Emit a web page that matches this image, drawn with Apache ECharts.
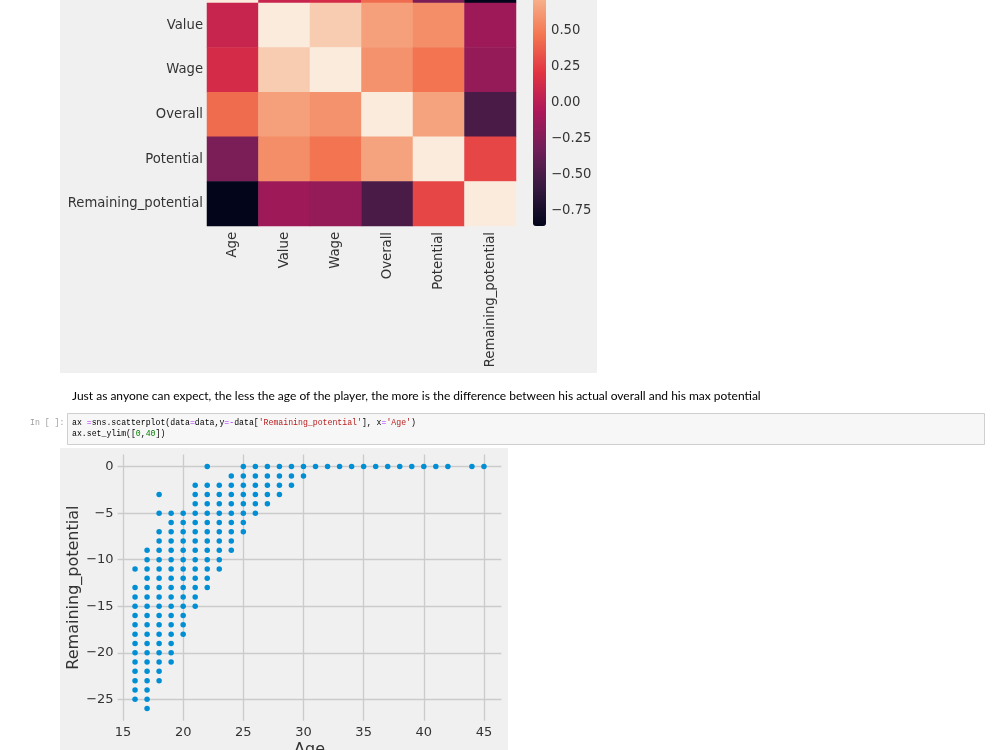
<!DOCTYPE html>
<html><head><meta charset="utf-8">
<script src="https://cdn.jsdelivr.net/npm/echarts@6/dist/echarts.min.js"></script>
<style>html,body{margin:0;padding:0;background:#fff}#c{width:1000px;height:750px}</style>
</head><body><div id="c"></div>
<script>
// ---------- heatmap data ----------
const features = ['Age', 'Value', 'Wage', 'Overall', 'Potential', 'Remaining_potential'];
const corrAge       = [ 1.00,  0.07,  0.13,  0.43, -0.28, -0.86];
const corrValue     = [ 0.07,  1.00,  0.85,  0.65,  0.57, -0.13];
const corrWage      = [ 0.13,  0.85,  1.00,  0.59,  0.46, -0.17];
const corrOverall   = [ 0.43,  0.65,  0.59,  1.00,  0.66, -0.50];
const corrPotential = [-0.28,  0.57,  0.46,  0.66,  1.00,  0.28];
const corrRemaining = [-0.86, -0.13, -0.17, -0.50,  0.28,  1.00];
const colorbarTicks = [-0.75, -0.50, -0.25, 0.00, 0.25, 0.50, 0.75, 1.00];

// ---------- scatter data ----------
const ages = [16, 17, 18, 19, 20, 21, 22, 23, 24, 25, 26, 27, 28, 29, 30,
              31, 32, 33, 34, 35, 36, 37, 38, 39, 40, 41, 42, 44, 45];
const remainingByAge = [
  [-11, -13, -14, -15, -16, -17, -18, -19, -20, -21, -22, -23, -24, -25],
  [-9, -10, -11, -12, -13, -14, -15, -16, -17, -18, -19, -20, -21, -22, -23, -24, -25, -26],
  [-3, -5, -7, -8, -9, -10, -11, -12, -13, -14, -15, -16, -17, -18, -19, -20, -21, -22, -23],
  [-5, -6, -7, -8, -9, -10, -11, -12, -13, -14, -15, -16, -17, -18, -19, -20, -21],
  [-5, -6, -7, -8, -9, -10, -11, -12, -13, -14, -15, -16, -17, -18],
  [-2, -3, -4, -5, -6, -7, -8, -9, -10, -11, -12, -13, -14, -15],
  [0, -2, -3, -4, -5, -6, -7, -8, -9, -10, -11, -12, -13],
  [-2, -3, -4, -5, -6, -7, -8, -9, -10, -11],
  [-1, -2, -3, -4, -5, -6, -7, -8, -9],
  [0, -1, -2, -3, -4, -5, -6, -7],
  [0, -1, -2, -3, -4, -5],
  [0, -1, -2, -3, -4],
  [0, -1, -2, -3],
  [0, -1, -2],
  [0, -1],
  [0], [0], [0], [0], [0], [0], [0], [0], [0], [0], [0], [0], [0], [0]
];
const xTicks = [15, 20, 25, 30, 35, 40, 45];
const yTicks = [-25, -20, -15, -10, -5, 0];

// ---------- build series data ----------
const corrRows = [corrAge, corrValue, corrWage, corrOverall, corrPotential, corrRemaining];
const heatData = [];
corrRows.forEach((row, yi) => row.forEach((v, xi) => heatData.push([xi, yi, v])));
const scatterData = [];
ages.forEach((a, i) => remainingByAge[i].forEach(v => scatterData.push([a, v])));

const minus = v => (v < 0 ? '\u2212' : '');
const fmtInt = v => minus(v) + Math.abs(v);
const fmt2 = v => minus(v) + Math.abs(v).toFixed(2);

const rocket = ['#03051A', '#35193E', '#701F57', '#AD1759', '#E13342', '#F37651', '#F6B48F', '#FAEBDD'];
const TXT = '#333333';
const MPL = 'DejaVu Sans';
const MONO = '8.2px "Liberation Mono"';

const chart = echarts.init(document.getElementById('c'), null, { renderer: 'canvas' });
chart.setOption({
  backgroundColor: '#ffffff',
  animation: false,
  graphic: [
    { type: 'rect', z: -10, shape: { x: 60, y: 0, width: 537, height: 373 }, style: { fill: '#F0F0F0' } },
    { type: 'rect', z: -10, shape: { x: 60, y: 448, width: 448, height: 302 }, style: { fill: '#F0F0F0' } },
    { type: 'text', x: 72, y: 396, style: {
        text: 'Just as anyone can expect, the less the age of the player, the more is the difference between his actual overall and his max potential',
        fill: '#000', font: '12px Lato', verticalAlign: 'middle' } },
    { type: 'rect', z: -10, shape: { x: 67.5, y: 413.5, width: 917, height: 31 }, style: { fill: '#F7F7F7', stroke: '#CFCFCF', lineWidth: 1 } },
    { type: 'text', x: 30, y: 423, style: { text: 'In [ ]:', fill: '#9E9E9E', font: MONO, verticalAlign: 'middle' } },
    { type: 'text', x: 72, y: 423, style: {
        text: "ax {o|=}sns.scatterplot(data{o|=}data,y{o|=-}data[{s|'Remaining_potential'}], x{o|=}{s|'Age'})",
        fill: '#000', font: MONO, verticalAlign: 'middle',
        rich: { o: { fill: '#AA22FF', font: MONO }, s: { fill: '#BA2121', font: MONO } } } },
    { type: 'text', x: 72, y: 434, style: {
        text: 'ax.set_ylim([{n|0},{n|40}])',
        fill: '#000', font: MONO, verticalAlign: 'middle',
        rich: { n: { fill: '#008000', font: MONO } } } }
  ],
  grid: [
    { left: 207, top: -41.6, width: 309, height: 267.6, outerBoundsMode: 'none', containLabel: false },
    { left: 533, top: -41.6, width: 13, height: 267.6, outerBoundsMode: 'none', containLabel: false },
    { left: 117.6, top: 454.5, width: 383.8, height: 266.2, outerBoundsMode: 'none', containLabel: false }
  ],
  xAxis: [
    { type: 'category', gridIndex: 0, data: features, position: 'bottom',
      axisLine: { show: false }, axisTick: { show: false }, splitLine: { show: false },
      axisLabel: { rotate: 90, margin: 6, fontSize: 13.2, color: TXT, fontFamily: MPL, interval: 0 } },
    { type: 'value', gridIndex: 1, show: false, min: 0, max: 1 },
    { type: 'value', gridIndex: 2, min: 14.55, max: 46.45,
      name: 'Age', nameLocation: 'middle', nameGap: 21,
      nameTextStyle: { fontSize: 16, color: TXT, fontFamily: MPL },
      axisLine: { show: false }, axisTick: { show: false, customValues: xTicks },
      axisLabel: { customValues: xTicks, margin: 5, fontSize: 13, color: TXT, fontFamily: MPL, formatter: fmtInt },
      splitLine: { show: true, lineStyle: { color: '#CBCBCB', width: 1.3 } } }
  ],
  yAxis: [
    { type: 'category', gridIndex: 0, data: features, inverse: true,
      axisLine: { show: false }, axisTick: { show: false }, splitLine: { show: false },
      axisLabel: { margin: 4, fontSize: 13.2, color: TXT, fontFamily: MPL, interval: 0 } },
    { type: 'value', gridIndex: 1, position: 'right', min: -0.86, max: 1.0,
      axisLine: { show: false }, axisTick: { show: false, customValues: colorbarTicks }, splitLine: { show: false },
      axisLabel: { customValues: colorbarTicks, margin: 5, fontSize: 13.2, color: TXT, fontFamily: MPL, formatter: fmt2 } },
    { type: 'value', gridIndex: 2, min: -27.3, max: 1.3,
      name: 'Remaining_potential', nameLocation: 'middle', nameGap: 34,
      nameTextStyle: { fontSize: 16, color: TXT, fontFamily: MPL },
      axisLine: { show: false }, axisTick: { show: false, customValues: yTicks },
      axisLabel: { customValues: yTicks, margin: 4, fontSize: 13, color: TXT, fontFamily: MPL, formatter: fmtInt },
      splitLine: { show: true, lineStyle: { color: '#CBCBCB', width: 1.3 } } }
  ],
  visualMap: {
    type: 'continuous', seriesIndex: 0, min: -0.86, max: 1.0,
    inRange: { color: rocket },
    left: 533, top: -41.6, itemWidth: 13, itemHeight: 267.6, padding: 0,
    calculable: false, hoverLink: false, text: null, orient: 'vertical'
  },
  series: [
    { type: 'heatmap', xAxisIndex: 0, yAxisIndex: 0, data: heatData, emphasis: { disabled: true } },
    { type: 'scatter', xAxisIndex: 2, yAxisIndex: 2, data: scatterData, symbolSize: 5.5,
      itemStyle: { color: '#008FD5', opacity: 1 }, emphasis: { disabled: true } }
  ]
});
</script>
</body></html>
